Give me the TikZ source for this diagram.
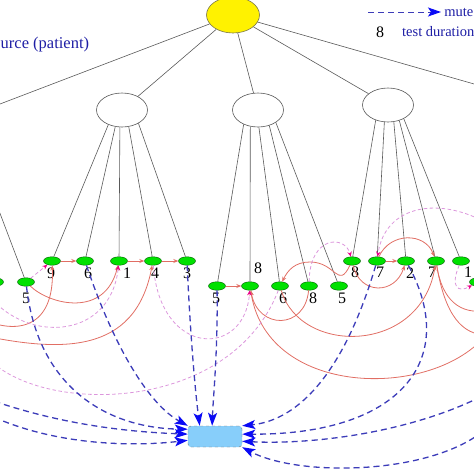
\documentclass[tikz,border=0pt]{standalone}
\usepackage{fontspec}
\setmainfont{Liberation Serif}
\usetikzlibrary{arrows.meta,shapes.geometric}
\definecolor{leafgreen}{RGB}{0,225,0}
\definecolor{depred}{RGB}{225,110,100}
\definecolor{hintpink}{RGB}{220,150,220}
\definecolor{mutexblue}{RGB}{60,60,185}
\definecolor{tipblue}{RGB}{10,10,245}
\definecolor{sinkblue}{RGB}{135,206,250}
\definecolor{textblue}{RGB}{30,30,165}
\begin{document}
\begin{tikzpicture}[x=1pt,y=-1pt,
    leaf/.style={ellipse,draw=green!35!black,line width=0.4pt,fill=leafgreen,minimum width=17pt,minimum height=8.5pt,inner sep=0pt},
    inner/.style={ellipse,draw=black!65,fill=white,line width=0.6pt,minimum width=51pt,minimum height=34pt,inner sep=0pt},
    rootnode/.style={ellipse,draw=black!60!yellow,fill=yellow,line width=0.6pt,minimum width=53pt,minimum height=36pt,inner sep=0pt},
    sink/.style={rectangle,rounded corners=3pt,draw=black!55,dashed,fill=sinkblue,minimum width=54pt,minimum height=21pt},
    lbl/.style={font=\fontsize{16}{16}\selectfont,inner sep=0pt},
    legend/.style={font=\fontsize{14.5}{16}\selectfont,text=textblue,inner sep=0pt},
    treeline/.style={draw=black!65,line width=0.6pt},
    dep/.style={draw=depred,line width=0.8pt,-{Stealth[length=5pt,width=4pt]}},
    hint/.style={draw=hintpink,line width=0.8pt,dash pattern=on 3.5pt off 2.5pt,-{Stealth[length=5pt,width=4.5pt,color=magenta]}},
    mutex/.style={draw=mutexblue,line width=1.3pt,dash pattern=on 6pt off 4pt,-{Stealth[length=13pt,width=9pt,inset=3pt,color=tipblue]}}]
  \useasboundingbox (0,0) rectangle (474,474);
  \clip (0,0) rectangle (474,474);

  % patient and the groups of tests
  \draw
    (233,15) node[rootnode] (src){}
    (-55,125) node[inner] (e0){}
    (122,110) node[inner] (e1){}
    (258,110) node[inner] (e2){}
    (388,105) node[inner] (e3){}
    (530,100) node[inner] (e4){};
  \draw
    (-5,282) node[leaf] (a4){}
    (26,282) node[leaf] (a5){}
    (52,261) node[leaf] (b1){}
    (85,261) node[leaf] (b2){}
    (119,261) node[leaf] (b3){}
    (153,261) node[leaf] (b4){}
    (187,261) node[leaf] (b5){}
    (217,286) node[leaf] (c1){}
    (250,286) node[leaf] (c2){}
    (280,286) node[leaf] (c3){}
    (309,286) node[leaf] (c4){}
    (339,286) node[leaf] (c5){}
    (352,261) node[leaf] (d1){}
    (377,261) node[leaf] (d2){}
    (406,261) node[leaf] (d3){}
    (436,261) node[leaf] (d4){}
    (461,261) node[leaf] (d5){}
    (478,282) node[leaf] (f1){};
  \node[sink] (sink) at (215,436.5) {};

  % durations
  \node[lbl] (a5l) at (26,298) {5};
  \node[lbl] (b1l) at (51,273) {9};
  \node[lbl] (b2l) at (88,273) {6};
  \node[lbl] (b3l) at (127,273) {1};
  \node[lbl] (b4l) at (155,273) {4};
  \node[lbl] (b5l) at (187,273) {3};
  \node[lbl] (c1l) at (216,298) {5};
  \node[lbl] (c2l) at (258,268) {8};
  \node[lbl] (c3l) at (283,298) {6};
  \node[lbl] (c4l) at (313,298) {8};
  \node[lbl] (c5l) at (342,298) {5};
  \node[lbl] (d1l) at (355,272) {8};
  \node[lbl] (d2l) at (380,272) {7};
  \node[lbl] (d3l) at (410,273) {2};
  \node[lbl] (d4l) at (432,272) {7};
  \node[lbl] (d5l) at (468,272) {1};

  % legend
  \coordinate (lgA) at (368,12);
  \coordinate (lgB) at (441,12);
  \draw[mutex,line width=1pt] (lgA) -- (lgB);
  \node[legend,anchor=east] (lgmut) at (473.5,12) {mute};
  \node[lbl] (lgnum) at (380,32) {8};
  \node[legend,anchor=west] (lgdur) at (402,32) {test duration};
  \node[legend,anchor=west,font=\fontsize{16.5}{18}\selectfont] (srclbl) at (0.5,45) {urce (patient)};

  % free ends outside the frame
  \coordinate (lw1) at (-20,318);
  \coordinate (lw2) at (-20,335);
  \coordinate (lw3) at (-15,290);
  \coordinate (lw4) at (-15,355);
  \coordinate (lw5) at (-15,398);
  \coordinate (lw6) at (-15,413);
  \coordinate (rw1) at (490,330);
  \coordinate (rw2) at (490,310);
  \coordinate (rw3) at (490,335);
  \coordinate (rw4) at (490,225);
  \coordinate (rw5) at (490,392);
  \coordinate (rw6) at (490,425);

  \begin{scope}[treeline]
    \draw (src) to (e0);
    \draw (src) to (e1);
    \draw (src) to (e2);
    \draw (src) to (e3);
    \draw (src) to (e4);
    \draw (e0.-40) to (a4);
    \draw (e0.-15) to (a5);
    \draw (e1.-133) to (b1);
    \draw (e1.-112) to (b2);
    \draw (e1.-97) to (b3);
    \draw (e1.-68) to (b4);
    \draw (e1.-39) to (b5);
    \draw (e2.-135) to (c1);
    \draw (e2.-115) to (c2);
    \draw (e2.-87) to (c3);
    \draw (e2.-54) to (c4);
    \draw (e2.-35) to (c5);
    \draw (e3.-129) to (d1);
    \draw (e3.-102) to (d2);
    \draw (e3.-71) to (d3);
    \draw (e3.-54) to (d4);
    \draw (e3.-41) to (d5);
    \draw (e4.-110) to (f1);
  \end{scope}

  \begin{scope}[dep]
    \draw (b1) to (b2);
    \draw (b3) to (b4);
    \draw (b4) to (b5);
    \draw (c1) to (c2);
    \draw (d2) to (d3);
    \draw (a5) .. controls (50,305) and (105,318) .. (b3);
    \draw (lw1) .. controls (15,335) and (55,330) .. (b1);
    \draw (lw2) .. controls (60,352) and (135,355) .. (b4);
    \draw (c4) .. controls (305,330) and (258,330) .. (c2);
    \draw (c3) .. controls (300,355) and (420,355) .. (d4);
    \draw (rw1) .. controls (440,400) and (268,400) .. (c2);
    \draw (d1) .. controls (338,290) and (336,262) .. (310,262) .. controls (295,262) and (288,270) .. (c3);
    \draw (d1) .. controls (360,295) and (395,295) .. (d3);
    \draw (d2) .. controls (390,232) and (425,232) .. (d4);
    \draw (d4) .. controls (442,300) and (460,315) .. (rw2);
    \draw (d4) .. controls (445,315) and (462,335) .. (rw3);
  \end{scope}

  \begin{scope}[hint]
    \draw (a5) to (b1);
    \draw (lw3) .. controls (20,343) and (110,343) .. (b3);
    \draw (b4) .. controls (160,358) and (245,358) .. (c2);
    \draw (c3) .. controls (230,415) and (40,415) .. (lw4);
    \draw (c4) .. controls (310,235) and (345,235) .. (d1);
    \draw (d5) .. controls (450,287) and (458,293) .. (f1);
    \draw (rw4) .. controls (440,195) and (385,205) .. (d2);
  \end{scope}

  \begin{scope}[mutex]
    \draw (a5) .. controls (38,390) and (110,428) .. (sink.165);
    \draw (b2) .. controls (115,350) and (150,405) .. (sink.north west);
    \draw (b5) .. controls (190,330) and (195,390) .. (sink.145);
    \draw (c1) .. controls (218,350) and (213,400) .. (sink.105);
    \draw (d2) .. controls (345,370) and (300,420) .. (sink.north east);
    \draw (d3) .. controls (460,360) and (400,435) .. (sink.5);
    \draw (rw5) .. controls (420,430) and (320,445) .. (sink.-10);
    \draw (rw6) .. controls (440,475) and (300,478) .. (sink.south east);
    \draw (lw5) .. controls (60,425) and (130,432) .. (sink.175);
    \draw (lw6) .. controls (50,445) and (130,447) .. (sink.-172);
  \end{scope}
\end{tikzpicture}
\end{document}
